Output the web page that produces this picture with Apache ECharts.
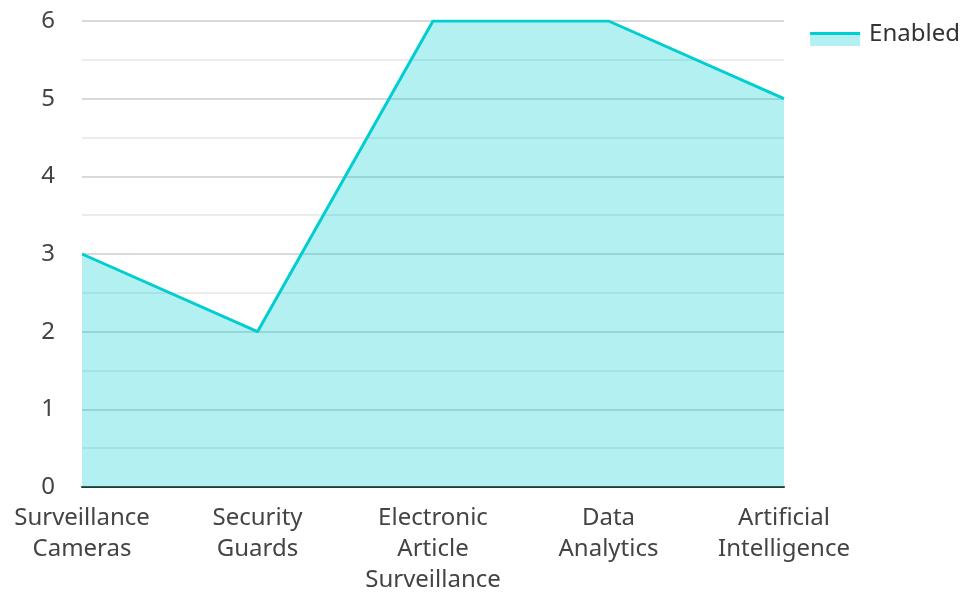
<!DOCTYPE html>
<html>
<head>
<meta charset="utf-8">
<script src="https://cdn.jsdelivr.net/npm/echarts@6/dist/echarts.min.js"></script>
<style>
html, body { margin: 0; padding: 0; background: #fff; }
#chart { width: 965px; height: 592px; }
</style>
</head>
<body>
<div id="chart"></div>
<script>
// categories and values
const categories = ['Surveillance Cameras', 'Security Guards', 'Electronic Article Surveillance', 'Data Analytics', 'Artificial Intelligence']
const enabledValues = [3, 2, 6, 6, 5]
const seriesName = 'Enabled'

const chart = echarts.init(document.getElementById('chart'))
const option = {
    textStyle: { fontFamily: 'Noto Sans' },
    // keep the plot box fixed, labels may reach the page edge
    grid: { left: 82, right: 181, top: 21, bottom: 105, containLabel: false, outerBoundsMode: 'none' },
    legend: {
        right: 0,
        top: 17,
        itemWidth: 50,
        itemHeight: 24,
        itemGap: 9,
        icon: 'rect',
        // blank gap, then the line, then the area below it
        itemStyle: {
            color: {
                type: 'linear', x: 0, y: 0, x2: 0, y2: 1,
                colorStops: [
                    { offset: 0, color: 'rgba(255,255,255,0)' },
                    { offset: 0.416, color: 'rgba(255,255,255,0)' },
                    { offset: 0.416, color: '#00CED1' },
                    { offset: 0.54, color: '#00CED1' },
                    { offset: 0.54, color: 'rgba(0,206,209,0.3)' },
                    { offset: 1, color: 'rgba(0,206,209,0.3)' },
                ],
            },
        },
        textStyle: { fontSize: 24, color: '#333', fontFamily: 'Noto Sans', padding: [0, 0, 0, 4] },
        data: [seriesName],
    },
    xAxis: {
        type: 'category',
        data: categories,
        boundaryGap: false,
        axisLine: { lineStyle: { color: '#333', width: 2 } },
        axisTick: { show: false },
        axisLabel: {
            fontSize: 24,
            color: '#444',
            lineHeight: 31,
            margin: 16,
            interval: 0,
            // wrap every word onto its own line
            formatter: v => v.split(' ').join('\n'),
        },
    },
    yAxis: {
        type: 'value',
        min: 0,
        max: 6,
        interval: 1,
        axisLine: { show: false },
        axisTick: { show: false },
        axisLabel: { fontSize: 24, color: '#444', margin: 27 },
        splitLine: { lineStyle: { color: '#cccccc', width: 1.5 } },
        minorTick: { show: false, splitNumber: 2 },
        minorSplitLine: { show: true, lineStyle: { color: '#e6e6e6', width: 1.5 } },
    },
    series: [
        {
            name: seriesName,
            type: 'line',
            data: enabledValues,
            showSymbol: false,
            symbol: 'none',
            lineStyle: { color: '#00CED1', width: 3 },
            itemStyle: { color: '#00CED1' },
            areaStyle: { color: '#00CED1', opacity: 0.3 },
        },
    ],
}
chart.setOption(option)
</script>
</body>
</html>
